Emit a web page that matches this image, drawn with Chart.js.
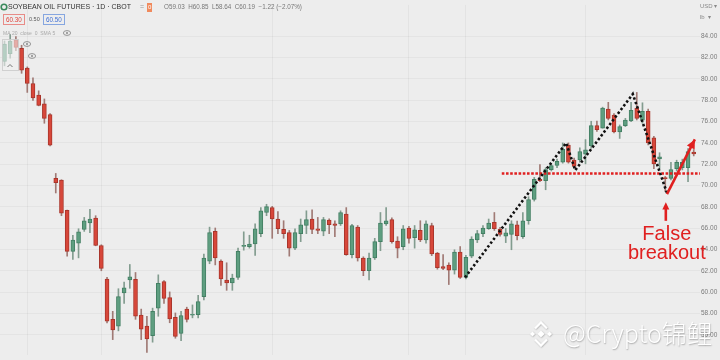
<!DOCTYPE html>
<html>
<head>
<meta charset="utf-8">
<script src="https://cdn.jsdelivr.net/npm/chart.js@4.4.1/dist/chart.umd.min.js"></script>
<style>
  html, body { margin:0; padding:0; background:#ededed; }
  canvas { display:block; background:#ededed; }
</style>
</head>
<body>
<canvas id="ch1" width="720" height="360"></canvas>
<script>
//daily candles - soybean oil futures
var opens = [81.62,82.34,83.65,82.84,80.99,79.56,78.47,77.65,76.64,70.67,
  70.51,67.68,63.83,64.59,65.89,66.49,66.95,64.38,61.24,57.46,
  56.83,59.94,61.15,61.21,57.87,56.83,55.93,58.51,61.0,59.49,
  57.66,56.14,58.42,57.84,57.9,59.59,62.92,65.7,62.92,61.15,
  60.88,61.39,64.29,64.28,64.52,65.49,67.47,67.93,66.86,65.89,
  65.58,64.13,65.49,66.25,66.86,65.95,65.73,66.77,66.4,66.4,
  67.32,63.52,66.1,63.21,62.01,63.21,64.74,66.4,66.8,64.8,
  64.28,66.01,65.11,65.79,64.89,66.25,63.67,62.4,62.55,62.06,
  63.76,61.39,63.37,64.89,65.49,65.95,66.55,65.92,65.26,65.41,
  66.31,65.2,66.7,68.69,70.58,70.45,71.49,71.87,72.18,73.79,
  72.39,72.39,72.94,73.7,75.61,75.37,77.15,76.59,75.01,75.61,
  76.04,77.25,76.13,76.94,74.46,72.48,70.75,70.67,71.58,71.66,
  71.66,73.12];
var highs = [83.54,84.15,83.95,83.14,81.11,80.08,78.87,78.11,76.74,71.13,
  70.54,67.69,65.34,65.95,67.01,67.77,67.17,64.45,61.39,58.21,
  60.33,60.94,62.6,61.85,58.42,57.75,58.51,61.63,61.09,60.03,
  58.06,58.21,58.6,58.81,59.72,63.58,66.1,66.02,63.03,62.76,
  61.69,64.13,65.66,65.34,66.4,67.93,68.24,68.05,67.56,66.7,
  65.79,65.95,66.86,67.63,67.71,67.01,67.01,66.88,66.7,67.63,
  67.93,66.37,66.25,63.32,63.67,65.05,67.47,67.93,66.98,65.2,
  66.25,66.17,66.25,66.7,66.7,66.47,63.73,63.52,62.76,63.98,
  64.28,63.46,65.2,65.79,66.25,66.86,67.47,66.07,65.97,66.7,
  66.67,67.47,68.95,70.76,71.96,71.67,72.03,72.48,73.99,73.99,
  72.57,73.53,74.3,76.02,76.03,77.34,77.79,76.74,75.67,76.29,
  77.79,78.72,77.75,77.15,74.61,73.07,70.85,72.18,72.37,72.47,
  73.47,73.37];
var lows = [81.21,81.93,82.64,80.51,78.72,77.97,77.46,75.83,73.7,69.3,
  67.17,63.38,63.07,63.22,65.7,65.58,64.35,62.01,57.13,55.56,
  56.38,58.96,60.37,57.46,55.56,54.35,55.32,57.75,58.96,57.14,
  55.69,55.47,57.21,57.6,57.6,59.28,62.67,62.56,60.63,60.18,
  60.18,61.19,63.94,64.13,63.46,65.2,67.17,65.05,65.49,65.05,
  63.38,63.98,64.74,65.49,65.49,65.49,65.29,65.49,65.2,66.25,
  63.46,63.22,62.92,61.55,61.15,63.07,63.89,66.27,64.59,63.22,
  63.98,64.59,64.13,64.74,64.59,63.43,62.16,62.11,60.72,61.7,
  61.29,61.24,63.23,64.65,65.2,65.89,65.79,65.26,64.65,63.98,
  64.89,65.05,66.37,68.54,70.35,69.6,71.36,71.66,72.09,72.09,
  71.67,72.18,72.03,73.49,75.07,75.37,76.14,74.92,74.41,75.52,
  75.98,76.14,75.83,73.8,71.58,71.58,69.43,70.52,71.36,71.46,
  70.35,72.77];
var closes = [83.24,83.54,82.94,80.81,79.56,78.2,77.51,76.29,73.77,70.27,
  67.41,63.83,64.88,65.65,66.7,66.86,64.38,62.24,57.3,56.48,
  59.59,60.42,61.45,57.75,56.54,55.63,58.21,60.84,59.42,57.5,
  55.87,57.81,57.46,57.94,59.12,63.21,65.58,63.21,61.24,60.88,
  61.33,63.83,64.39,64.52,65.95,67.63,68.02,66.86,65.95,65.49,
  64.13,65.58,66.31,66.8,65.89,65.79,66.8,66.34,66.25,67.47,
  63.52,66.25,63.21,62.01,63.21,64.74,66.49,66.7,64.74,64.13,
  65.95,65.05,65.85,64.89,66.4,63.58,62.3,62.24,62.06,63.76,
  61.39,63.28,64.98,65.49,66.02,66.49,65.95,65.41,65.56,66.4,
  65.29,66.7,68.69,70.58,70.45,71.49,71.87,72.26,73.4,72.18,
  71.78,73.18,73.33,75.61,75.22,77.25,76.29,75.01,75.52,76.13,
  77.05,76.29,76.94,74.0,72.03,72.69,70.65,71.49,72.18,72.17,
  73.17,72.97];

// price axis labels
var priceTicks = [56,58,60,62,64,66,68,70,72,74,76,78,80,82,84];
// candle positions of the faint vertical grid lines
var monthLines = [4,17,47,71,81,102];

// hand drawn marks (candle index / price)
var zigIdx = [80.85,98.6,100.2,110.3,116.3];
var zigPrice = [61.39,73.99,71.43,78.57,69.3];
var levelIdx = [87.3,122.1];
var levelPrice = [71.13,71.13];
var arrowIdx = [116.3,121.2];
var arrowPrice = [69.2,74.32];
var upArrowIdx = 116.1;
var upArrowPrice = [66.69,68.42];
var noteLines = ['False','breakout'];
var notePrice = [64.9,63.08];

var upColor = '#5e9e80', downColor = '#d7473a';
var upEdge = '#437f63', downEdge = '#a9352b';
var red = '#e02020';

var bodies = [], wicks = [], bodyFill = [], bodyEdge = [], wickFill = [];
opens.forEach(function(o, i){
  var up = closes[i] >= o;
  bodies.push({x: i, y: [o, closes[i]]});
  wicks.push({x: i, y: [lows[i], highs[i]]});
  bodyFill.push(up ? upColor : downColor);
  bodyEdge.push(up ? upEdge : downEdge);
  wickFill.push(up ? '#829c8f' : '#a07a75');
});

function pts(xs, ys){
  return xs.map(function(v, k){ return {x: v, y: ys[k]}; });
}

function arrowHead(ctx, x1, y1, x2, y2, size, color){
  var a = Math.atan2(y2 - y1, x2 - x1);
  ctx.save();
  ctx.fillStyle = color;
  ctx.beginPath();
  ctx.moveTo(x2, y2);
  ctx.lineTo(x2 - size*Math.cos(a - 0.45), y2 - size*Math.sin(a - 0.45));
  ctx.lineTo(x2 - size*Math.cos(a + 0.45), y2 - size*Math.sin(a + 0.45));
  ctx.closePath();
  ctx.fill();
  ctx.restore();
}

function eye(ctx, x, y){
  ctx.save();
  ctx.strokeStyle = '#8a8a8a';
  ctx.lineWidth = 0.9;
  ctx.beginPath();
  ctx.ellipse(x, y, 3.6, 2.4, 0, 0, Math.PI*2);
  ctx.stroke();
  ctx.beginPath();
  ctx.arc(x, y, 1, 0, Math.PI*2);
  ctx.fillStyle = '#8a8a8a';
  ctx.fill();
  ctx.restore();
}

var overlay = {
  id: 'overlay',
  afterDatasetsDraw: function(chart){
    var ctx = chart.ctx, xs = chart.scales.x, ys = chart.scales.y;

    // arrow head of the breakout line
    var n = arrowIdx.length;
    arrowHead(ctx, xs.getPixelForValue(arrowIdx[n-2]), ys.getPixelForValue(arrowPrice[n-2]),
      xs.getPixelForValue(arrowIdx[n-1]), ys.getPixelForValue(arrowPrice[n-1]), 10, red);

    // small arrow under the fake low
    var ax = xs.getPixelForValue(upArrowIdx);
    var yb = ys.getPixelForValue(upArrowPrice[0]), yt = ys.getPixelForValue(upArrowPrice[1]);
    ctx.save();
    ctx.strokeStyle = red;
    ctx.lineWidth = 2.6;
    ctx.beginPath();
    ctx.moveTo(ax, yb);
    ctx.lineTo(ax, yt + 6);
    ctx.stroke();
    ctx.restore();
    arrowHead(ctx, ax, yb, ax, yt, 8, red);

    // note text
    ctx.save();
    ctx.fillStyle = red;
    ctx.font = '20px "Liberation Sans", Arial, sans-serif';
    ctx.textAlign = 'center';
    ctx.textBaseline = 'alphabetic';
    noteLines.forEach(function(t, k){
      ctx.fillText(t, ax + 1, ys.getPixelForValue(notePrice[k]));
    });
    ctx.restore();

    // collapsed indicator panel over the first candles
    ctx.save();
    ctx.fillStyle = 'rgba(240,240,240,0.6)';
    ctx.strokeStyle = 'rgba(200,200,200,0.8)';
    ctx.lineWidth = 1;
    ctx.fillRect(2, 39, 17, 32);
    ctx.strokeRect(2.5, 39.5, 16, 31);
    ctx.strokeStyle = '#777';
    ctx.beginPath();
    ctx.moveTo(7.5, 67); ctx.lineTo(10, 64.5); ctx.lineTo(12.5, 67);
    ctx.stroke();
    ctx.restore();
    eye(ctx, 27, 44);
    eye(ctx, 32, 56);
  },
  afterDraw: function(chart){
    var ctx = chart.ctx;
    ctx.save();
    ctx.textBaseline = 'middle';

    // header line
    ctx.strokeStyle = '#3b8a5c';
    ctx.lineWidth = 1.6;
    ctx.beginPath();
    ctx.arc(4, 7, 2.8, 0, Math.PI*2);
    ctx.stroke();
    ctx.fillStyle = '#333';
    ctx.font = '7px "Liberation Sans", Arial, sans-serif';
    ctx.fillText('SOYBEAN OIL FUTURES · 1D · CBOT', 8, 7.5);
    ctx.fillStyle = '#999';
    ctx.fillText('=', 140, 7.5);
    ctx.fillStyle = '#f08a5d';
    ctx.fillRect(147, 3, 5, 9);
    ctx.fillStyle = '#fff';
    ctx.font = '6px "Liberation Sans", Arial, sans-serif';
    ctx.fillText('0', 148, 7.5);
    ctx.fillStyle = '#777';
    ctx.font = '6.3px "Liberation Sans", Arial, sans-serif';
    ctx.fillText('O59.03  H60.85  L58.64  C60.19  −1.22 (−2.07%)', 164, 7.5);

    // bid / ask boxes
    ctx.font = '6.3px "Liberation Sans", Arial, sans-serif';
    ctx.strokeStyle = '#e88b87';
    ctx.lineWidth = 1;
    ctx.strokeRect(3.5, 14.5, 21, 10);
    ctx.fillStyle = '#e0423a';
    ctx.fillText('60.30', 6, 19.8);
    ctx.fillStyle = '#555';
    ctx.font = '5.5px "Liberation Sans", Arial, sans-serif';
    ctx.fillText('0.50', 29, 19.8);
    ctx.strokeStyle = '#86a6e0';
    ctx.strokeRect(43.5, 14.5, 21, 10);
    ctx.fillStyle = '#3d6fd6';
    ctx.font = '6.3px "Liberation Sans", Arial, sans-serif';
    ctx.fillText('60.50', 46, 19.8);

    // indicator row
    ctx.fillStyle = '#a9a9a9';
    ctx.font = '5px "Liberation Sans", Arial, sans-serif';
    ctx.fillText('MA 20  close  0  SMA 5', 3, 33.5);
    eye(ctx, 67, 33);

    // unit selector on the price scale
    ctx.fillStyle = '#888';
    ctx.font = '6px "Liberation Sans", Arial, sans-serif';
    ctx.fillText('USD ▾', 700, 6.5);
    ctx.fillText('lb  ▾', 700, 17);

    // watermark
    var cx = 541, cy = 334;
    ctx.shadowColor = 'rgba(0,0,0,0.3)';
    ctx.shadowBlur = 1.5;
    ctx.shadowOffsetX = 0.5;
    ctx.shadowOffsetY = 0.5;
    ctx.fillStyle = '#ffffff';
    function dia(x, y, r){
      ctx.beginPath();
      ctx.moveTo(x, y - r); ctx.lineTo(x + r, y); ctx.lineTo(x, y + r); ctx.lineTo(x - r, y);
      ctx.closePath();
      ctx.fill();
    }
    dia(cx, cy, 3.6);
    dia(cx - 8.5, cy, 2.6);
    dia(cx + 8.5, cy, 2.6);
    ctx.strokeStyle = '#ffffff';
    ctx.lineWidth = 2.4;
    ctx.beginPath();
    ctx.moveTo(cx - 6, cy - 5.5); ctx.lineTo(cx, cy - 11.5); ctx.lineTo(cx + 6, cy - 5.5);
    ctx.moveTo(cx - 6, cy + 5.5); ctx.lineTo(cx, cy + 11.5); ctx.lineTo(cx + 6, cy + 5.5);
    ctx.stroke();

    var wm = '@Crypto锦鲤';
    var size = 22;
    ctx.font = '300 ' + size + 'px "Noto Sans CJK SC", "Noto Sans", sans-serif';
    var w = ctx.measureText(wm).width;
    size = size * 149 / w;
    ctx.font = '300 ' + size + 'px "Noto Sans CJK SC", "Noto Sans", sans-serif';
    ctx.textBaseline = 'alphabetic';
    ctx.fillText(wm, 563, 343);
    ctx.restore();
  }
};

var ctx1 = document.getElementById('ch1').getContext('2d');
var myChart = new Chart(ctx1, {
  type: 'bar',
  data: {
    datasets: [
      {
        type: 'line',
        data: pts(arrowIdx, arrowPrice),
        borderColor: red,
        borderWidth: 2.6,
        pointRadius: 0,
        fill: false,
        order: 0
      },
      {
        type: 'line',
        data: pts(zigIdx, zigPrice),
        borderColor: '#111',
        borderWidth: 2.6,
        borderDash: [2.4, 2.3],
        pointRadius: 0,
        fill: false,
        order: 1
      },
      {
        type: 'line',
        data: pts(levelIdx, levelPrice),
        borderColor: red,
        borderWidth: 2.6,
        borderDash: [2.6, 1.6],
        pointRadius: 0,
        fill: false,
        order: 1
      },
      {
        label: 'body',
        data: bodies,
        backgroundColor: bodyFill,
        borderColor: bodyEdge,
        borderWidth: 1,
        borderSkipped: false,
        barThickness: 4,
        minBarLength: 1,
        grouped: false,
        order: 2
      },
      {
        label: 'wick',
        data: wicks,
        backgroundColor: wickFill,
        borderWidth: 0,
        barThickness: 1,
        grouped: false,
        order: 3
      }
    ]
  },
  options: {
    responsive: false,
    devicePixelRatio: 1,
    animation: false,
    layout: { padding: 0 },
    plugins: { legend: { display: false }, tooltip: { enabled: false } },
    scales: {
      x: {
        type: 'linear',
        min: -0.79,
        max: 122.1,
        offset: false,
        afterBuildTicks: function(s){ s.ticks = monthLines.map(function(v){ return {value: v}; }); },
        afterFit: function(s){ s.height = 0; },
        ticks: { display: false },
        grid: { color: 'rgba(0,0,0,0.045)', drawTicks: false, offset: false },
        border: { display: false }
      },
      y: {
        position: 'right',
        min: 54.11,
        max: 86.92,
        afterBuildTicks: function(s){ s.ticks = priceTicks.map(function(v){ return {value: v}; }); },
        afterFit: function(s){ s.width = 20; },
        ticks: {
          padding: 1,
          color: '#7a7a7a',
          font: { size: 6.5, family: 'Liberation Sans' },
          callback: function(v){ return Number(v).toFixed(2); }
        },
        grid: { color: 'rgba(0,0,0,0.04)', drawTicks: false },
        border: { display: false }
      }
    }
  },
  plugins: [overlay]
});
</script>
</body>
</html>
